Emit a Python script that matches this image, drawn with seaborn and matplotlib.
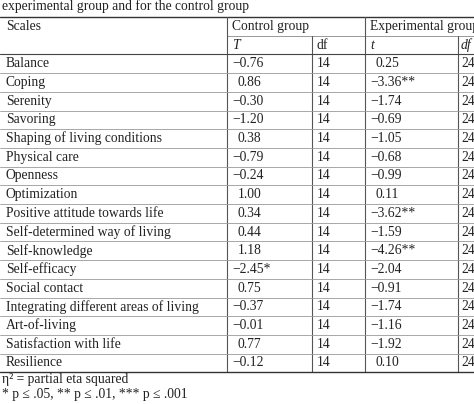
import matplotlib
matplotlib.use("Agg")
import matplotlib.pyplot as plt
import seaborn as sns

scales = ["Balance", "Coping", "Serenity", "Savoring", "Shaping of living conditions",
          "Physical care", "Openness", "Optimization", "Positive attitude towards life",
          "Self-determined way of living", "Self-knowledge", "Self-efficacy", "Social contact",
          "Integrating different areas of living", "Art-of-living", "Satisfaction with life", "Resilience"]
control_t = ["\u22120.76", "0.86", "\u22120.30", "\u22121.20", "0.38", "\u22120.79", "\u22120.24", "1.00", "0.34",
             "0.44", "1.18", "\u22122.45*", "0.75", "\u22120.37", "\u22120.01", "0.77", "\u22120.12"]
control_df = [14] * 17
exp_t = ["0.25", "\u22123.36**", "\u22121.74", "\u22120.69", "\u22121.05", "\u22120.68", "\u22120.99", "0.11", "\u22123.62**",
         "\u22121.59", "\u22124.26**", "\u22122.04", "\u22120.91", "\u22121.74", "\u22121.16", "\u22121.92", "0.10"]
exp_df = [24] * 17

sns.set_style("white")
plt.rcParams['font.family'] = ['Liberation Serif', 'DejaVu Serif']
fig = plt.figure(figsize=(4.74, 4.04), dpi=100)
ax = fig.add_axes([0, 0, 1, 1])
ax.set_xlim(0, 474); ax.set_ylim(404, 0); ax.axis("off")
fs = 9.8
col = "#222222"
ax.text(2, 6, "experimental group and for the control group", fontsize=fs, va="center", color=col)
top, rh = 17, 18.7
xs = [2, 227, 312, 365, 458]
ax.plot([0, 474], [top, top], color="#333", lw=1)
ax.plot([227, 474], [top + rh, top + rh], color="#888", lw=0.6)
n = len(scales)
bottom = top + rh * (n + 2)
for x in xs[1:]:
    y0 = top if x in (227, 365) else top + rh
    ax.plot([x, x], [y0, bottom], color="#555", lw=0.8)
ax.text(6, top + rh / 2, "Scales", fontsize=fs, va="center", color=col)
ax.text(232, top + rh / 2, "Control group", fontsize=fs, va="center", color=col)
ax.text(370, top + rh / 2, "Experimental group", fontsize=fs, va="center", color=col)
y = top + rh * 1.5
ax.text(232, y, "T", fontsize=fs, va="center", style="italic", color=col)
ax.text(317, y, "df", fontsize=fs, va="center", color=col)
ax.text(370, y, "t", fontsize=fs, va="center", style="italic", color=col)
ax.text(461, y, "df", fontsize=fs, va="center", style="italic", color=col)
ax.plot([0, 474], [top + 2 * rh, top + 2 * rh], color="#444", lw=0.8)
for i in range(n):
    yc = top + rh * (2.5 + i)
    ax.text(6, yc, scales[i], fontsize=fs, va="center", color=col)
    ax.text(232 if control_t[i].startswith("\u2212") else 238, yc, control_t[i], fontsize=fs, va="center", color=col)
    ax.text(317, yc, str(control_df[i]), fontsize=fs, va="center", color=col)
    ax.text(370 if exp_t[i].startswith("\u2212") else 376, yc, exp_t[i], fontsize=fs, va="center", color=col)
    ax.text(461, yc, str(exp_df[i]), fontsize=fs, va="center", color=col)
    yl = top + rh * (3 + i)
    ax.plot([0, 474], [yl, yl], color="#999" if i < n - 1 else "#333", lw=0.6 if i < n - 1 else 1)
ax.text(2, bottom + 7, "\u03b7\u00b2 = partial eta squared", fontsize=fs, va="center", color=col)
ax.text(2, bottom + 22, "* p \u2264 .05, ** p \u2264 .01, *** p \u2264 .001", fontsize=fs, va="center", color=col)
fig.savefig("out.png", dpi=100)
